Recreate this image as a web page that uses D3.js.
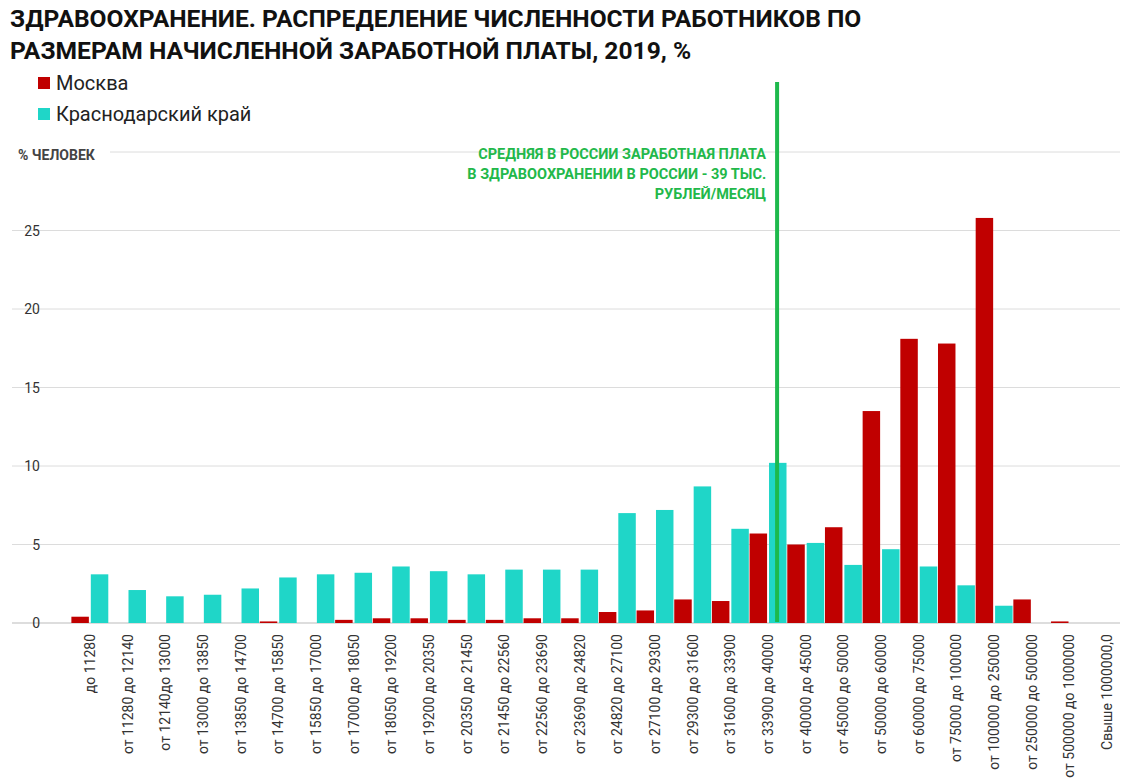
<!DOCTYPE html><html><head><meta charset="utf-8"><script src="https://cdn.jsdelivr.net/npm/d3@7"></script>
<style>body{margin:0;background:#fff}text{font-family:"Roboto",sans-serif}</style></head><body><svg id="c" width="1131" height="779"></svg><script>
const categories=["до  11280","от 11280 до 12140","от 12140до 13000","от 13000 до 13850","от 13850 до 14700","от 14700 до 15850","от 15850 до 17000","от 17000  до 18050","от 18050 до 19200","от 19200 до 20350","от 20350 до 21450","от 21450 до 22560","от 22560 до 23690","от 23690 до 24820","от 24820 до 27100","от 27100 до 29300","от 29300 до 31600","от 31600 до 33900","от 33900 до 40000","от 40000 до 45000","от 45000 до 50000","от 50000 до 60000","от 60000 до 75000","от 75000 до 100000","от 100000 до 250000","от 250000 до 500000","от 500000 до 1000000","Свыше 1000000,0"];
const moscow=[0.4,0,0,0,0,0.1,0,0.2,0.3,0.3,0.2,0.2,0.3,0.3,0.7,0.8,1.5,1.4,5.7,5.0,6.1,13.5,18.1,17.8,25.8,1.5,0.1,0];
const krasnodar=[3.1,2.1,1.7,1.8,2.2,2.9,3.1,3.2,3.6,3.3,3.1,3.4,3.4,3.4,7.0,7.2,8.7,6.0,10.2,5.1,3.7,4.7,3.6,2.4,1.1,0,0,0];
const yTicks=[0,5,10,15,20,25,30];
const seriesNames=["Москва","Краснодарский край"];
const svg=d3.select("#c");
const x=d3.scaleBand().domain(categories).range([71,1126]).paddingInner(0).paddingOuter(0);
const y=d3.scaleLinear().domain([0,30]).range([623,152]);
const colors=["#c00000","#1fd6c8"];
svg.append("g").selectAll("line").data(yTicks).join("line")
 .attr("x1",d=>d===30?110:12).attr("x2",1120).attr("y1",d=>y(d)).attr("y2",d=>y(d))
 .attr("stroke",d=>d===0?"#bbb":"#dcdcdc").attr("stroke-width",1);
svg.append("g").selectAll("text").data(yTicks.filter(d=>d<30)).join("text")
 .attr("x",40).attr("y",d=>y(d)+5).attr("text-anchor","end").attr("font-size",14).attr("fill","#333").text(d=>d);
svg.append("text").attr("x",18).attr("y",160).attr("font-size",14).attr("font-weight","bold").attr("fill","#444").text("% ЧЕЛОВЕК");
const bw=x.bandwidth();
const sub=d3.scaleBand().domain([0,1]).range([0,bw]).paddingInner(0.1).paddingOuter(0.02);
[moscow,krasnodar].forEach((arr,s)=>{
 svg.append("g").selectAll("rect").data(arr).join("rect")
  .attr("x",(d,i)=>x(categories[i])+sub(s)).attr("width",sub.bandwidth())
  .attr("y",d=>y(d)).attr("height",d=>y(0)-y(d)).attr("fill",colors[s]);
});
svg.append("g").selectAll("text").data(categories).join("text")
 .attr("transform",d=>`translate(${x(d)+bw/2+5},634) rotate(-90)`)
 .attr("text-anchor","end").attr("font-size",14).attr("fill","#333").text(d=>d);
const lx=x(categories[18])+bw*0.74;
svg.append("line").attr("x1",lx).attr("x2",lx).attr("y1",82).attr("y2",622).attr("stroke","#1db94c").attr("stroke-width",4);
["СРЕДНЯЯ В РОССИИ ЗАРАБОТНАЯ ПЛАТА","В ЗДРАВООХРАНЕНИИ В РОССИИ - 39 ТЫС.","РУБЛЕЙ/МЕСЯЦ"].forEach((t,i)=>
 svg.append("text").attr("x",lx-11).attr("y",159+i*20).attr("text-anchor","end").attr("font-size",14.5).attr("font-weight","bold").attr("fill","#22b84a").text(t));
["ЗДРАВООХРАНЕНИЕ. РАСПРЕДЕЛЕНИЕ ЧИСЛЕННОСТИ РАБОТНИКОВ ПО","РАЗМЕРАМ НАЧИСЛЕННОЙ ЗАРАБОТНОЙ ПЛАТЫ, 2019, %"].forEach((t,i)=>
 svg.append("text").attr("x",10).attr("y",27+i*32).attr("font-size",24.6).attr("font-weight","bold").attr("fill","#111").text(t));
seriesNames.forEach((n,i)=>{
 svg.append("rect").attr("x",38).attr("y",77+i*31).attr("width",12).attr("height",12).attr("fill",colors[i]);
 svg.append("text").attr("x",56).attr("y",90+i*31).attr("font-size",20).attr("fill","#222").text(n);
});
</script></body></html>
